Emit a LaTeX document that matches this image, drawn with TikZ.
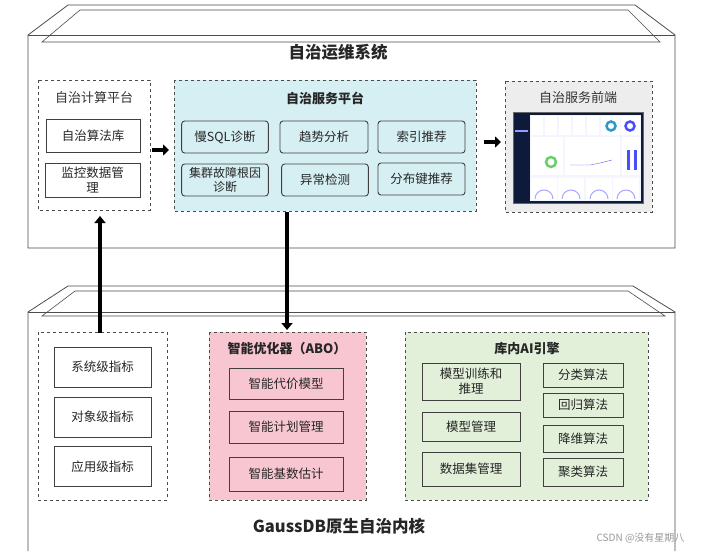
\documentclass[tikz,border=0pt]{standalone}
\usepackage{fontspec}
\setmainfont{Noto Sans CJK SC}
\usetikzlibrary{arrows.meta}
\definecolor{cyanf}{HTML}{D6EFF3}
\definecolor{pinkf}{HTML}{F8C6D1}
\definecolor{greenf}{HTML}{E2F0D9}
\definecolor{greyf}{HTML}{EDEDED}
\definecolor{navy}{HTML}{0E1A3A}
\tikzset{
 x=1pt,y=-1pt,
 frame/.style={draw=black!70,line width=0.8pt},
 grp/.style={draw=black!70,dashed,line width=0.7pt},
 box/.style={draw=black!75,line width=0.9pt,align=center,font=\fontsize{12.5}{14}\selectfont,text=black!85},
 rbox/.style={box,rounded corners=3pt},
 ttl/.style={font=\fontsize{13}{15}\selectfont,text=black!80},
 bttl/.style={font=\fontsize{13}{15}\selectfont\bfseries,text=black!85},
 big/.style={font=\fontsize{16.5}{18}\selectfont\bfseries,text=black!85},
 thick arrow/.style={line width=3.5pt,-{Triangle[length=7pt,width=11pt]}},
 blk/.style={line width=4pt,-{Triangle[length=6pt,width=11pt]}}
}
\begin{document}
\begin{tikzpicture}
\useasboundingbox (0,0) rectangle (703,551);
\fill[white] (0,0) rectangle (703,551);
% top system
\draw[frame] (28,248) -- (28,35) -- (68,5) -- (635,5) -- (675,35) -- (675,248) -- cycle;
\draw[frame] (28,35) -- (675,35);
\draw[frame,line width=0.6pt] (42,42) -- (80,10) -- (628,10) -- (660,42) -- cycle;
\node[big] (sys) at (338,52) {自治运维系统};
% compute platform
\draw[grp] (38,80) rectangle (150,210);
\node[ttl] (cpt) at (94,98) {自治计算平台};
\node[box,minimum width=94pt,minimum height=33pt] (alg) at (93,135.5) {自治算法库};
\node[box,minimum width=95pt,minimum height=34pt,text width=85pt,font=\fontsize{12.5}{15}\selectfont] (mon) at (92.5,180) {监控数据管\\理};
% service platform
\draw[grp,fill=cyanf] (174,80) rectangle (476,211);
\node[bttl] (spt) at (325,98) {自治服务平台};
\tikzset{sb/.style={rbox,fill=cyanf,minimum height=32pt,text width=80pt}}
\node[sb,minimum width=84pt] (s1) at (225,137) {慢SQL诊断};
\node[sb,minimum width=88pt] (s2) at (324,137) {趋势分析};
\node[sb,minimum width=87pt] (s3) at (421.5,137) {索引推荐};
\node[sb,minimum width=84pt,font=\fontsize{12}{14}\selectfont] (s4) at (225,180) {集群故障根因\\诊断};
\node[sb,minimum width=84pt] (s5) at (325,180) {异常检测};
\node[sb,minimum width=87pt] (s6) at (421.5,179) {分布键推荐};
% front end
\draw[grp,fill=greyf] (505,81) rectangle (652,212);
\node[ttl] (fet) at (578,98) {自治服务前端};
\node[draw=black!60,fill=navy,minimum width=130pt,minimum height=91pt,inner sep=0] (dash) at (578,157.5) {};
\fill[white!96!blue] (530,115) rectangle (641,201);
\foreach \xx in {531,545,559,573,587} \fill[white] (\xx,116) rectangle (\xx+12,135);
\foreach \xx in {601,621} \fill[white] (\xx,116) rectangle (\xx+19,135);
\draw[cyan!60!teal,line width=2.5pt] (611,126) circle (4.5);
\draw[blue!70,line width=2.5pt] (630,126) circle (4.5);
\fill[white] (531,137) rectangle (563,175);
\fill[white] (565,137) rectangle (620,175);
\fill[white] (622,137) rectangle (640,175);
\draw[green!70!black!60,line width=2.5pt] (551,162) circle (5);
\draw[blue!60] (570,165) -- (590,165) -- (600,163) -- (612,160);
\fill[blue!70] (627,150) rectangle (630,170);
\fill[blue!70] (634,150) rectangle (637,170);
\foreach \xx in {531,558,586,613} {\fill[white] (\xx,178) rectangle (\xx+26,200);
 \draw[blue!35,line width=1pt] (\xx+4,199) arc (180:360:9);}
\fill[blue!40] (515,130) rectangle (528,132);
% small arrows
\draw[blk] (152,150) -- (169,150);
\draw[blk] (484,142) -- (501,142);
% bottom kernel
\draw[frame] (28,551) -- (28,312) -- (68,286) -- (633,286) -- (675,312) -- (675,551);
\draw[frame] (28,312) -- (675,312);
\draw[frame,line width=0.6pt] (42,316) -- (75,291) -- (628,291) -- (665,316) -- cycle;
\node[big] (ker) at (339,526) {GaussDB原生自治内核};
% left metrics
\draw[grp] (38,332) rectangle (167,500);
\tikzset{mb/.style={box,fill=white,minimum width=97pt,minimum height=40pt}}
\node[mb] (m1) at (102.5,367) {系统级指标};
\node[mb] (m2) at (102.5,417) {对象级指标};
\node[mb] (m3) at (102.5,466.5) {应用级指标};
% ABO
\draw[grp,fill=pinkf] (209,332) rectangle (366,500);
\node[bttl] (abo) at (287,349) {智能优化器（ABO）};
\tikzset{ab/.style={box,fill=pinkf,minimum width=114pt}}
\node[ab,minimum height=31pt] (a1) at (286,383.5) {智能代价模型};
\node[ab,minimum height=32pt] (a2) at (286,427) {智能计划管理};
\node[ab,minimum height=34pt] (a3) at (286,474) {智能基数估计};
% AI engine
\draw[grp,fill=greenf] (405,332) rectangle (648,500);
\node[bttl] (ai) at (527,349) {库内AI引擎};
\tikzset{gb/.style={box,fill=greenf,minimum width=98pt}}
\node[gb,minimum height=37pt,font=\fontsize{12.5}{15}\selectfont] (g1) at (471,381.5) {模型训练和\\推理};
\node[gb,minimum height=29pt] (g2) at (471,426.5) {模型管理};
\node[gb,minimum height=34pt] (g3) at (471,469) {数据集管理};
\tikzset{hb/.style={box,fill=greenf,minimum width=80pt}}
\node[hb,minimum height=24pt] (h1) at (583,375) {分类算法};
\node[hb,minimum height=24pt] (h2) at (583,405) {回归算法};
\node[hb,minimum height=27pt] (h3) at (583,438.5) {降维算法};
\node[hb,minimum height=28pt] (h4) at (583,472) {聚类算法};
% vertical arrows
\coordinate (up0) at (100,333);
\coordinate (dn1) at (287,330);
\draw[thick arrow] (up0) -- (100,216);
\draw[thick arrow] (287,212) -- (dn1);
\node[text=black!40,font=\fontsize{10}{11}\selectfont,anchor=east] (wm) at (688,538) {CSDN @没有星期八};
\end{tikzpicture}
\end{document}
